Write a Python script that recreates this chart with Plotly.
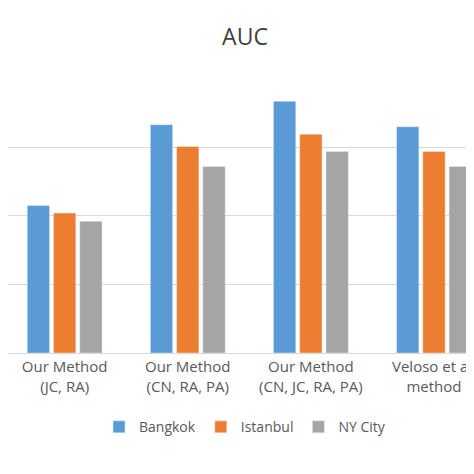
import plotly.graph_objects as go

categories = ["Our Method<br>(JC, RA)", "Our Method<br>(CN, RA, PA)", "Our Method<br>(CN, JC, RA, PA)", "Veloso et al.<br>method"]
bangkok = [2.15, 3.33, 3.67, 3.30]
istanbul = [2.04, 3.01, 3.19, 2.94]
nycity = [1.92, 2.72, 2.94, 2.72]

xs = list(range(len(categories)))
fig = go.Figure()
for name, vals, col in [("Bangkok", bangkok, "#5B9BD5"), ("Istanbul", istanbul, "#ED7D31"), ("NY City", nycity, "#A5A5A5")]:
    fig.add_bar(x=xs, y=vals, name=name, marker_color=col)

fig.update_layout(
    width=474, height=474, barmode="group", bargap=0.36, bargroupgap=0.15,
    margin=dict(l=0, r=0, t=70, b=129),
    plot_bgcolor="white", paper_bgcolor="white",
    font=dict(family="Open Sans", color="#595959", size=15),
    title=dict(text="AUC", x=0.5, y=0.955, xanchor="center", font=dict(size=23, color="#404040")),
    legend=dict(orientation="h", x=0.5, xanchor="center", y=-0.27, yanchor="middle", font=dict(size=14)),
    xaxis=dict(tickmode="array", tickvals=xs, ticktext=categories, range=[-0.46, 3.39],
               showline=True, linecolor="#d9d9d9", ticks=""),
    yaxis=dict(range=[0, 4.01], tickvals=[0, 1, 2, 3, 4], showticklabels=False, gridcolor="#d9d9d9", zeroline=False),
)
fig.write_html("out.html")
